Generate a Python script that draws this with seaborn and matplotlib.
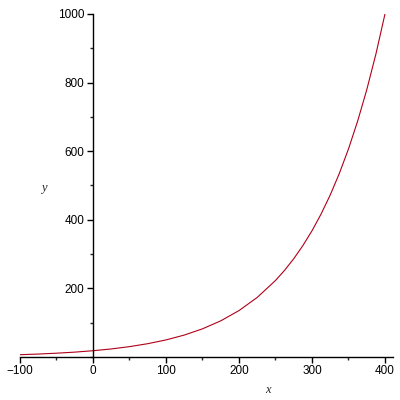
import matplotlib
matplotlib.use("Agg")
import matplotlib.pyplot as plt
import seaborn as sns
import pandas as pd
from matplotlib.ticker import MultipleLocator

x_vals = [-100, -75, -50, -25, 0, 25, 50, 75, 100, 125, 150, 175, 200,
          225, 250, 262.5, 275, 287.5, 300, 312.5, 325, 337.5, 350, 362.5,
          375, 387.5, 400]
y_vals = [6.7, 8.6, 11.1, 14.2, 18.3, 23.5, 30.2, 38.8, 49.8, 63.9, 82.1,
          105.4, 135.3, 173.7, 223.1, 252.8, 286.5, 324.7, 367.9, 416.9,
          472.4, 535.3, 606.5, 687.3, 778.8, 882.5, 1000.0]
x_ticks = [-100, 0, 100, 200, 300, 400]
y_ticks = [200, 400, 600, 800, 1000]

sns.set_style("white")
plt.rcParams['font.family'] = ['Liberation Sans', 'DejaVu Sans']

df = pd.DataFrame({"x": x_vals, "y": y_vals})

fig = plt.figure(figsize=(4, 4), dpi=100)
ax = fig.add_axes([0.05, 0.1075, 0.9325, 0.8575])
sns.lineplot(data=df, x="x", y="y", ax=ax, color="#b00018", linewidth=0.8)

ax.set_xlim(-100, 411)
ax.set_ylim(0, 1000)
ax.spines['left'].set_position(('data', 0))
ax.spines['bottom'].set_position(('data', 0))
ax.spines['top'].set_visible(False)
ax.spines['right'].set_visible(False)
for s in ('left', 'bottom'):
    ax.spines[s].set_linewidth(1.0)
    ax.spines[s].set_color('black')

ax.set_xticks(x_ticks)
ax.set_yticks(y_ticks)
ax.xaxis.set_minor_locator(MultipleLocator(50))
ax.yaxis.set_minor_locator(MultipleLocator(100))
ax.tick_params(which='major', direction='out', length=4, width=1, labelsize=8.5,
               colors='black', pad=2, bottom=True, left=True)
ax.tick_params(which='minor', direction='out', length=2.5, width=1,
               bottom=True, left=True)

ax.set_xlabel("")
ax.set_ylabel("")
ax.text(240, -95, "x", fontsize=9, style='italic', family=['Liberation Serif'],
        ha='center', va='center')
ax.text(-67, 493, "y", fontsize=9, style='italic', family=['Liberation Serif'],
        ha='center', va='center')
ax.grid(False)

fig.savefig("out.png", dpi=100)
